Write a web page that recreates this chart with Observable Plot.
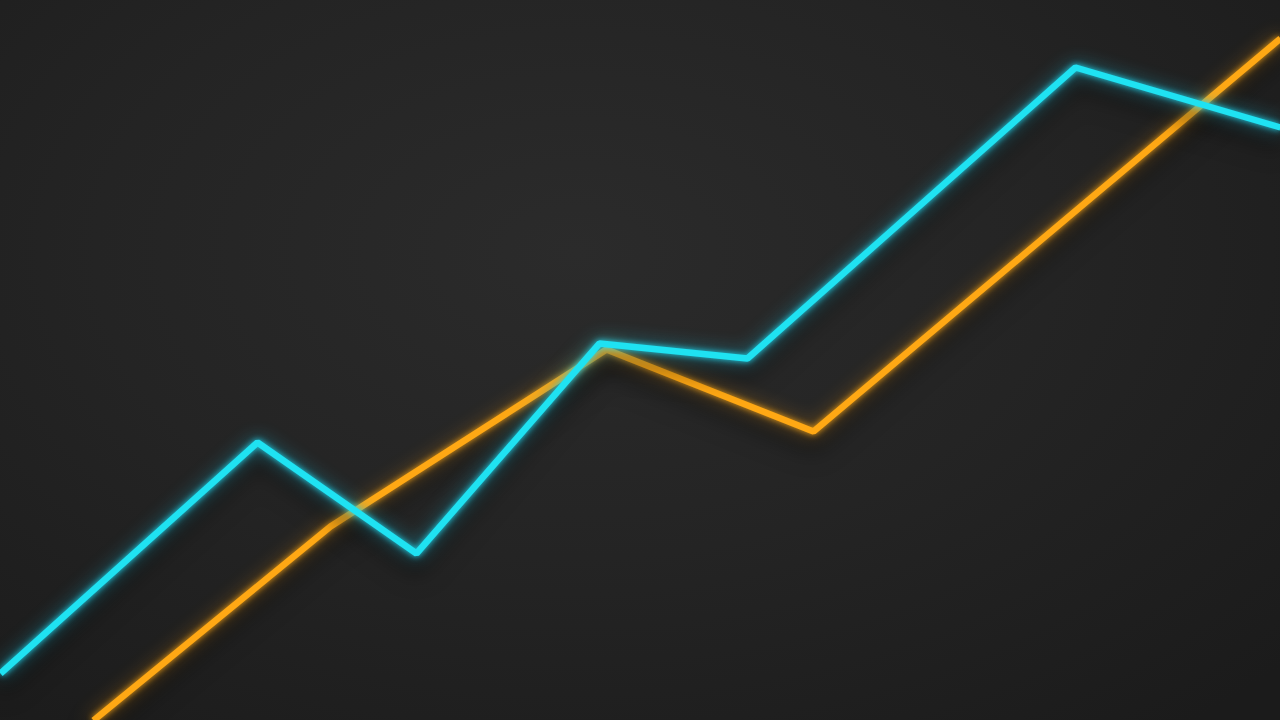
<!DOCTYPE html>
<html>
<head>
<meta charset="utf-8">
<script src="https://cdn.jsdelivr.net/npm/d3@7"></script>
<script src="https://cdn.jsdelivr.net/npm/@observablehq/plot@0.6"></script>
<style>
  html, body { margin: 0; padding: 0; width: 1280px; height: 720px; overflow: hidden; }
  body { background: radial-gradient(ellipse 75% 85% at 45% 35%, #2b2b2b 0%, #242424 50%, #1b1b1b 100%); }
  #chart svg { display: block; background: transparent; }
  .glow-cyan path { filter: drop-shadow(0 0 3px rgba(30,230,255,0.9)) drop-shadow(0 0 9px rgba(30,220,255,0.45)) drop-shadow(0 14px 10px rgba(0,0,0,0.55)); }
  .glow-orange path { filter: drop-shadow(0 0 3px rgba(255,170,20,0.9)) drop-shadow(0 0 9px rgba(255,160,20,0.4)) drop-shadow(0 14px 10px rgba(0,0,0,0.55)); }
</style>
</head>
<body>
<div id="chart"></div>
<script>
// Series (x position, value; value increases upward)
const cyanX = [0, 257, 416, 599, 747, 1075, 1280];
const cyanY = [47, 278, 167, 377, 362, 653, 593];
const orangeX = [93, 330, 606, 813, 1280];
const orangeY = [0, 194, 371, 289, 682];

const cyan = cyanX.map((x, i) => ({x, y: cyanY[i]}));
const orange = orangeX.map((x, i) => ({x, y: orangeY[i]}));

const plot = Plot.plot({
  width: 1280,
  height: 720,
  margin: 0,
  x: {domain: [0, 1280], axis: null},
  y: {domain: [0, 720], axis: null},
  style: {background: "transparent", overflow: "hidden"},
  marks: [
    Plot.line(orange, {x: "x", y: "y", stroke: "#ffa814", strokeWidth: 6.5, strokeLinejoin: "miter", strokeLinecap: "butt"}),
    Plot.line(cyan, {x: "x", y: "y", stroke: "#1fe2f2", strokeWidth: 6.5, strokeLinejoin: "miter", strokeLinecap: "butt"})
  ]
});
document.getElementById("chart").appendChild(plot);
const groups = d3.select(plot).selectAll("g[aria-label='line']").nodes();
if (groups[0]) groups[0].classList.add("glow-orange");
if (groups[1]) groups[1].classList.add("glow-cyan");
</script>
</body>
</html>
